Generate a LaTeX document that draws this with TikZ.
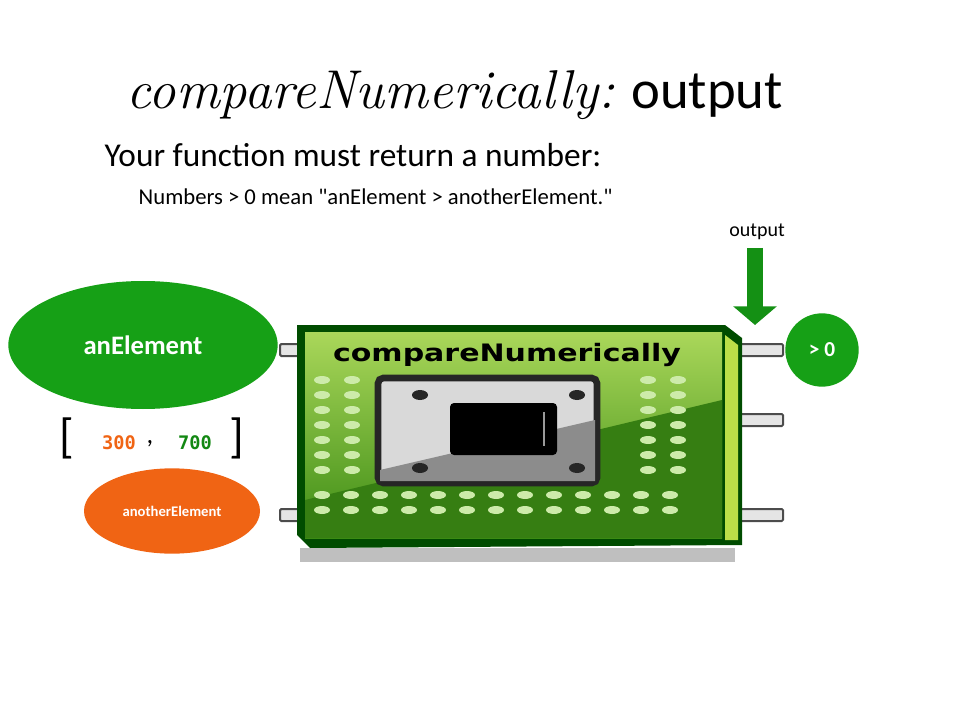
\documentclass[tikz,border=0pt]{standalone}
\usepackage{fontspec}
\setmainfont{Carlito}
\newfontfamily\plainquote{Carlito}[Ligatures=ResetAll]
\newfontfamily\codefont{DejaVu Sans Mono}
\newfontfamily\chipfont{DejaVu Sans}
\newfontfamily\cursive{Latin Modern Roman}
\usetikzlibrary{shapes.geometric,arrows.meta}
\definecolor{elgreen}{RGB}{22,160,22}
\definecolor{elorange}{RGB}{240,100,20}
\definecolor{boardgreen}{RGB}{60,140,20}
\definecolor{boardlight}{RGB}{170,215,90}
\definecolor{dotgreen}{RGB}{205,235,170}
\tikzset{
  blob/.style={ellipse, fill=#1, text=white, font=\bfseries, inner sep=0pt},
  pin/.style={draw=black!70, fill=black!10, line width=1.5pt, rounded corners=1pt},
  dot/.style={fill=dotgreen, draw=none}
}
\begin{document}
\begin{tikzpicture}[x=0.75pt,y=-0.75pt]
  \useasboundingbox (0,0) rectangle (960,720);

  %% Title
  \node (title) at (455,95) {\fontsize{41}{44}\selectfont{\cursive\itshape compareNumerically:} output};
  \node[anchor=west] (sub) at (100,155) {\fontsize{25}{28}\selectfont Your function must return a number:};
  \node[anchor=west] (rule) at (134,197) {\fontsize{17}{20}\selectfont\plainquote Numbers > 0 mean "anElement > anotherElement."};

  % shadow
  \fill[black!25] (300,548) rectangle (735,562);

  % pins
  \draw[pin] (280,344) rectangle (305,356);
  \draw[pin] (280,509) rectangle (305,521);
  \foreach \y in {350,420,515}
    \draw[pin] (735,\y-6) rectangle (783,\y+6);

  % board
  \fill[black!70!green] (297,325) -- (725,325) -- (742,338) -- (742,545) -- (310,548) -- (297,535) -- cycle;
  \fill[boardlight!80!yellow] (725,335) -- (738,345) -- (738,540) -- (725,540) -- cycle;
  \shade[top color=boardlight, bottom color=boardgreen] (305,332) rectangle (722,538);
  \fill[boardgreen!90!black] (305,500) -- (722,400) -- (722,538) -- (305,538) -- cycle;

  % dots
  \foreach \x in {322,352,648,678}
    \foreach \y in {380,395,...,480}
      \fill[dot] (\x,\y) ellipse (8 and 4);
  \foreach \x in {322,351,...,680}
    \foreach \y in {495,510}
      \fill[dot] (\x,\y) ellipse (8 and 4);

  % chip core
  \draw[black!85, line width=5pt, fill=black!15, rounded corners=4pt] (378,378) rectangle (597,483);
  \fill[black!45] (380,470) -- (595,420) -- (595,481) -- (380,481) -- cycle;
  \fill[black, rounded corners=3pt] (450,403) rectangle (557,455);
  \draw[black!40, line width=1.5pt] (544,412) -- (544,446);
  \foreach \p in {(420,395),(577,395),(420,468),(577,468)}
    \fill[black!85] \p ellipse (8 and 5);

  \node[xscale=1.25] (chip) at (507,355) {\fontsize{18}{22}\selectfont\chipfont\bfseries compareNumerically};

  %% inputs and output
  \node[blob=elgreen, minimum width=202pt, minimum height=96pt, font=\fontsize{20}{22}\selectfont\bfseries] (an) at (143,345) {anElement};
  \node[blob=elorange, minimum width=132pt, minimum height=64pt, font=\fontsize{11}{13}\selectfont\bfseries] (another) at (172,511) {anotherElement};
  \node[circle, fill=elgreen, text=white, minimum size=55pt, inner sep=0pt, font=\fontsize{16}{18}\selectfont\bfseries] (res) at (822,350) {> 0};

  \node (lb) at (67,438) {\fontsize{36}{38}\selectfont [};
  \node[text=elorange, font=\codefont\bfseries\fontsize{14}{18}\selectfont] (a) at (119,443) {300};
  \node (comma) at (150,444) {\fontsize{20}{20}\selectfont ,};
  \node[text=elgreen!85!black, font=\codefont\bfseries\fontsize{14}{18}\selectfont] (b) at (195,443) {700};
  \node (rb) at (237,438) {\fontsize{36}{38}\selectfont ]};

  \node (outl) at (757,232) {\fontsize{15}{18}\selectfont output};
  \coordinate (tip) at (755,325);
  \draw[elgreen!90!black, line width=12pt, -{Triangle[width=32pt,length=14pt]}] (755,248) -- (tip);
\end{tikzpicture}
\end{document}
